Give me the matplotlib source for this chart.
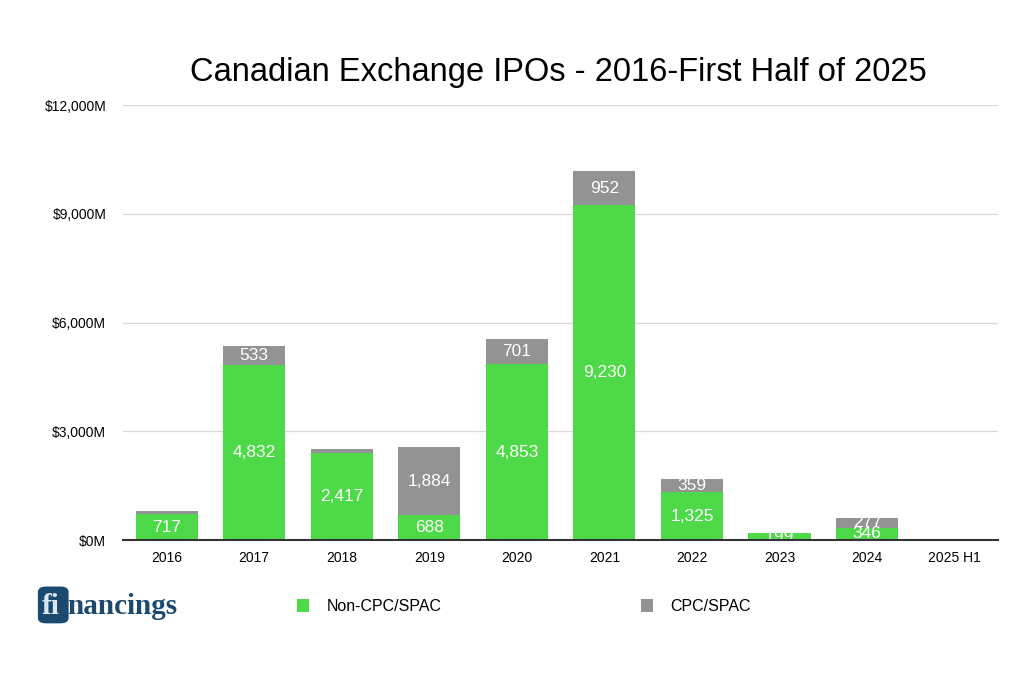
import numpy as np
import matplotlib.pyplot as plt
from matplotlib.patches import FancyBboxPatch

plt.rcParams['font.family'] = ['Liberation Sans', 'DejaVu Sans']

# dane (mln CAD)
lata = ['2016', '2017', '2018', '2019', '2020', '2021', '2022', '2023', '2024', '2025 H1']
non_cpc = [717, 4832, 2417, 688, 4853, 9230, 1325, 199, 346, 0]
cpc = [85, 533, 85, 1884, 701, 952, 359, 0, 277, 0]

zielony = '#4ED948'
szary = '#939393'

fig = plt.figure(figsize=(10.24, 6.82), dpi=100)
ax = fig.add_axes([0.12, 0.208, 0.855, 0.638])

x = np.arange(len(lata))
b1 = ax.bar(x, non_cpc, width=0.71, color=zielony, label='Non-CPC/SPAC', zorder=3)
b2 = ax.bar(x, cpc, width=0.71, bottom=non_cpc, color=szary, label='CPC/SPAC', zorder=3)

# etykiety wartosci
for i in range(len(lata)):
    if non_cpc[i] >= 150:
        ax.text(x[i], non_cpc[i] / 2, f'{non_cpc[i]:,}', ha='center', va='center',
                color='white', fontsize=12.5, zorder=4)
    if cpc[i] >= 150:
        ax.text(x[i], non_cpc[i] + cpc[i] / 2, f'{cpc[i]:,}', ha='center', va='center',
                color='white', fontsize=12.5, zorder=4)

ax.set_xlim(-0.5, len(lata) - 0.5)
ax.set_ylim(0, 12000)
ax.set_yticks([0, 3000, 6000, 9000, 12000])
ax.set_yticklabels(['$0M', '$3,000M', '$6,000M', '$9,000M', '$12,000M'])
ax.set_xticks(x)
ax.set_xticklabels(lata)
ax.tick_params(length=0, labelsize=10, pad=8)
ax.tick_params(axis='y', pad=12)
ax.grid(axis='y', color='#d9d9d9', linewidth=0.9, zorder=0)
for s in ['top', 'right', 'left']:
    ax.spines[s].set_visible(False)
ax.spines['bottom'].set_color('#333333')
ax.spines['bottom'].set_linewidth(1.5)
ax.spines['bottom'].set_zorder(5)

fig.text(0.545, 0.893, 'Canadian Exchange IPOs - 2016-First Half of 2025', ha='center',
         va='center', fontsize=23.5)

# legenda
fig.legend(handles=[b1, b2], loc='center left', bbox_to_anchor=(0.276, 0.111), ncol=2,
           frameon=False, fontsize=11.5, handlelength=0.75, handleheight=0.9,
           handletextpad=1.1, columnspacing=12.5)

# logo
logo = '#1b4a6e'
box = FancyBboxPatch((0.037, 0.086), 0.03, 0.054, boxstyle='round,pad=0,rounding_size=0.008',
                     transform=fig.transFigure, facecolor=logo, edgecolor='none')
fig.patches.append(box)
fig.text(0.041, 0.111, 'fi', color='#dbe6ee', fontsize=21, fontweight='bold',
         family='Liberation Serif', va='center', ha='left')
fig.text(0.0655, 0.111, 'nancings', color=logo, fontsize=21, fontweight='bold',
         family='Liberation Serif', va='center', ha='left')

plt.savefig('out.png', dpi=100)
